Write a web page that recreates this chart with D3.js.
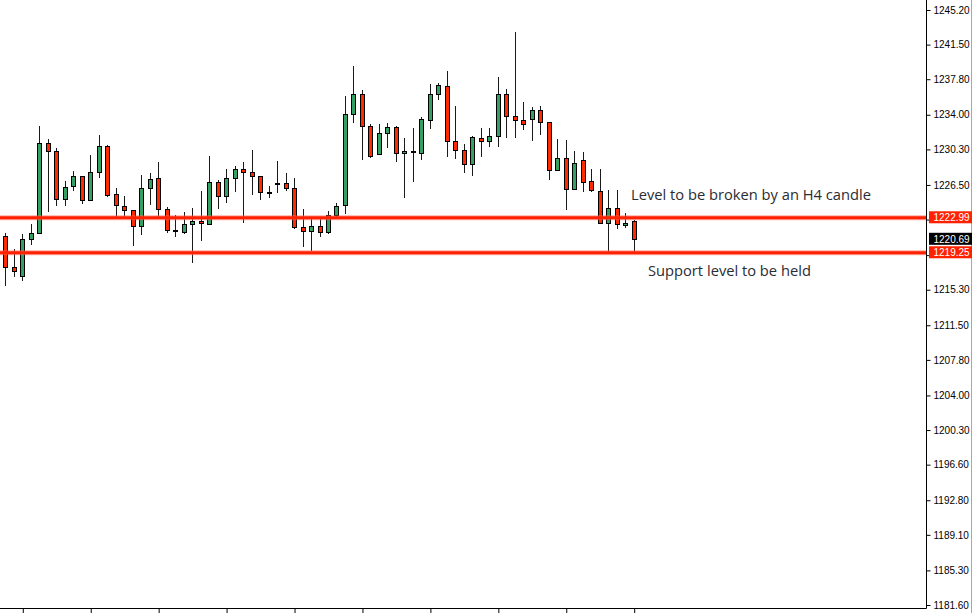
<!DOCTYPE html>
<html>
<head>
<meta charset="utf-8">
<script src="https://cdn.jsdelivr.net/npm/d3@7/dist/d3.min.js"></script>
<style>
  html, body { margin: 0; padding: 0; background: #fff; }
  svg { display: block; }
</style>
</head>
<body>
<svg id="chart" width="975" height="613"></svg>
<script>
// ---- data ----
const opens = [1221.0,1217.7,1216.74,1220.69,1221.40,1230.95,1230.13,1225.03,1226.36,1227.42,
1224.89,1227.85,1230.63,1225.50,1224.22,1223.82,1222.08,1226.14,1227.21,1223.90,
1221.68,1221.50,1222.29,1222.68,1222.29,1226.85,1225.29,1227.21,1228.20,1227.85,
1227.42,1225.75,1226.74,1226.74,1226.14,1222.04,1221.61,1222.14,1221.47,1223.26,
1224.32,1234.05,1236.25,1232.77,1229.78,1232.02,1232.66,1229.88,1230.10,1229.88,
1233.41,1236.19,1237.04,1231.17,1230.24,1228.77,1231.57,1231.17,1231.70,1236.19,
1233.87,1233.41,1233.52,1234.48,1233.20,1228.07,1229.35,1226.07,1229.13,1226.89,
1225.85,1222.43,1224.04,1222.19,1222.65];
const highs = [1221.40,1219.62,1221.22,1222.33,1232.80,1231.38,1230.42,1226.92,1227.99,1227.50,
1229.70,1231.84,1230.80,1226.14,1225.29,1223.85,1227.53,1227.78,1228.92,1224.17,
1223.26,1223.61,1224.00,1225.85,1229.59,1227.00,1228.17,1228.56,1228.95,1230.24,
1227.45,1226.42,1229.03,1227.74,1227.27,1223.90,1222.89,1223.04,1223.75,1224.57,
1236.04,1239.21,1236.65,1232.98,1232.98,1233.12,1232.80,1231.49,1232.56,1233.76,
1237.29,1237.40,1238.68,1234.91,1230.84,1231.73,1232.56,1232.56,1238.04,1236.76,
1242.88,1235.33,1234.83,1234.94,1233.25,1231.41,1231.27,1230.13,1230.02,1228.20,
1228.20,1225.96,1225.96,1223.53,1222.70];
const lows = [1215.70,1216.63,1216.26,1220.11,1221.26,1223.64,1224.28,1224.28,1225.89,1224.46,
1224.85,1227.27,1225.24,1223.04,1223.04,1220.01,1221.15,1224.36,1223.00,1221.33,
1220.90,1221.22,1218.12,1220.48,1222.25,1223.96,1224.54,1225.71,1222.46,1225.39,
1224.86,1225.10,1225.67,1225.85,1221.76,1219.90,1219.44,1220.90,1221.22,1223.07,
1223.36,1233.09,1229.20,1229.35,1229.75,1230.45,1228.98,1225.14,1226.82,1229.13,
1232.48,1235.55,1229.52,1229.24,1227.74,1227.49,1229.45,1230.52,1230.52,1231.49,
1231.49,1232.34,1231.23,1231.81,1227.03,1228.00,1223.79,1226.00,1225.78,1225.78,
1222.40,1219.15,1221.76,1221.87,1219.15];
const closes = [1217.70,1217.27,1220.69,1221.40,1230.95,1230.10,1225.03,1226.25,1227.42,1224.89,
1227.85,1230.63,1225.46,1224.32,1223.79,1222.08,1226.14,1227.10,1223.90,1221.68,
1221.54,1222.29,1222.65,1222.43,1226.85,1225.29,1227.21,1228.17,1227.85,1227.42,
1225.71,1225.70,1226.60,1226.14,1222.04,1221.61,1222.14,1221.50,1223.26,1224.22,
1234.08,1236.25,1232.77,1229.56,1232.02,1232.66,1229.88,1230.10,1229.99,1233.55,
1236.19,1237.15,1231.17,1230.24,1228.77,1231.62,1231.17,1231.70,1236.19,1233.84,
1233.41,1232.98,1234.48,1233.20,1228.07,1229.35,1226.07,1228.81,1226.85,1225.93,
1222.43,1224.04,1222.33,1222.43,1220.69];

// price-scale ticks; the two under the level tags are covered in the reference
const yTickValues = [1245.20,1241.50,1237.80,1234.00,1230.30,1226.50,1222.80,1219.00,
1215.30,1211.50,1207.80,1204.00,1200.30,1196.60,1192.80,1189.10,1185.30,1181.60];
const yHiddenLabels = [1222.80, 1219.00];
const timeTickIndex = [2,10,18,26,34,42,50,58,66,74];

const levelValues = [1222.99, 1219.25];
const levelTexts = ["Level to be broken by an H4 candle", "Support level to be held"];
const currentPrice = 1220.69;

// ---- layout ----
const W = 975, H = 613;
const axisX = 926, bottomY = 608;
const svg = d3.select("#chart");

const y = d3.scaleLinear().domain([1181.6, 1245.2]).range([605, 10]);
const x = d3.scaleLinear().domain([0, opens.length - 1]).range([5.3, 633.7]);

const candles = opens.map((o, i) => ({ i, o, h: highs[i], l: lows[i], c: closes[i] }));

const gC = svg.append("g");
// wicks
gC.selectAll("line.wick").data(candles).join("line")
  .attr("class", "wick")
  .attr("x1", d => Math.round(x(d.i)) + 0.5)
  .attr("x2", d => Math.round(x(d.i)) + 0.5)
  .attr("y1", d => Math.round(y(d.h)))
  .attr("y2", d => Math.round(y(d.l)))
  .attr("stroke", "#1a1a1a")
  .attr("stroke-width", 1);
// bodies
gC.selectAll("rect.body").data(candles).join("rect")
  .attr("class", "body")
  .attr("x", d => Math.round(x(d.i)) - 1.5)
  .attr("width", 4)
  .attr("y", d => Math.round(y(Math.max(d.o, d.c))) + 0.5)
  .attr("height", d => Math.max(1, Math.round(y(Math.min(d.o, d.c))) - Math.round(y(Math.max(d.o, d.c)))))
  .attr("fill", d => d.c >= d.o ? "#34a063" : "#ff2a00")
  .attr("stroke", "#000")
  .attr("stroke-width", 1);

// horizontal levels
const gL = svg.append("g");
levelValues.forEach(v => {
  const yy = y(v);
  gL.append("line").attr("x1", 0).attr("x2", axisX).attr("y1", yy).attr("y2", yy)
    .attr("stroke", "#ff6a5a").attr("stroke-opacity", 0.55).attr("stroke-width", 5);
  gL.append("line").attr("x1", 0).attr("x2", axisX).attr("y1", yy).attr("y2", yy)
    .attr("stroke", "#ff2200").attr("stroke-width", 3);
});

// annotations
svg.append("text").attr("x", 631).attr("y", 199.5)
  .attr("font-family", "Open Sans, Noto Sans, sans-serif").attr("font-size", 14.7)
  .attr("fill", "#2a2d33").text(levelTexts[0]);
svg.append("text").attr("x", 648).attr("y", 276)
  .attr("font-family", "Open Sans, Noto Sans, sans-serif").attr("font-size", 14.7)
  .attr("fill", "#2a2d33").text(levelTexts[1]);

// frame lines
svg.append("line").attr("x1", axisX + 0.5).attr("x2", axisX + 0.5).attr("y1", 0).attr("y2", bottomY + 0.5)
  .attr("stroke", "#000");
svg.append("line").attr("x1", 0).attr("x2", axisX + 0.5).attr("y1", bottomY + 0.5).attr("y2", bottomY + 0.5)
  .attr("stroke", "#000");
svg.append("line").attr("x1", 971.5).attr("x2", 971.5).attr("y1", 0).attr("y2", H)
  .attr("stroke", "#a8a8a8");

// right price axis
const yAxis = d3.axisRight(y)
  .tickValues(yTickValues)
  .tickFormat(d => yHiddenLabels.includes(d) ? "" : d3.format(".2f")(d))
  .tickSize(4).tickSizeOuter(0).tickPadding(3);
const gY = svg.append("g").attr("transform", `translate(${axisX + 0.5},0)`).call(yAxis);
gY.select(".domain").remove();
gY.selectAll("text").attr("font-family", "Liberation Sans, Arial, sans-serif")
  .attr("font-size", 10).attr("fill", "#000");
gY.selectAll("line").attr("stroke", "#000");

// bottom time axis (ticks only; labels fall outside the picture)
const xAxis = d3.axisBottom(x).tickValues(timeTickIndex).tickFormat("").tickSize(5).tickSizeOuter(0);
const gX = svg.append("g").attr("transform", `translate(0.5,${bottomY + 0.5})`).call(xAxis);
gX.select(".domain").remove();
gX.selectAll("line").attr("stroke", "#000");

// price tags
function tag(value, fill) {
  const yy = y(value);
  svg.append("rect").attr("x", 929).attr("y", yy - 6.5).attr("width", 43).attr("height", 12)
    .attr("fill", fill);
  svg.append("text").attr("x", 933.5).attr("y", yy + 3.7)
    .attr("font-family", "Liberation Sans, Arial, sans-serif").attr("font-size", 10)
    .attr("fill", "#fff").text(d3.format(".2f")(value));
}
tag(currentPrice, "#000");
levelValues.forEach(v => tag(v, "#ff2200"));
</script>
</body>
</html>
